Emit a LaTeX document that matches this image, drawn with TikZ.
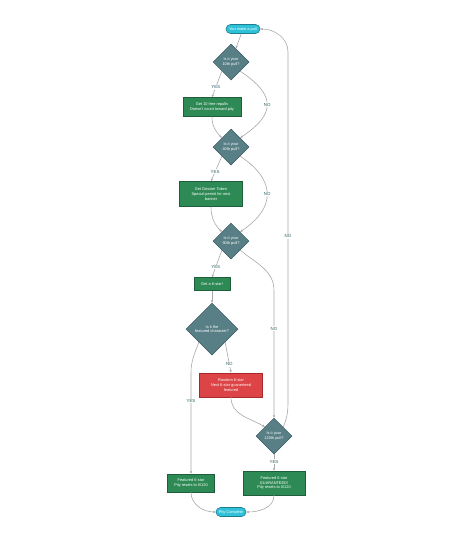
\documentclass[tikz,border=0pt]{standalone}
\usepackage{fontspec}
\setmainfont{Liberation Sans}
\usetikzlibrary{shapes.geometric, arrows.meta, positioning}

\definecolor{decfill}{HTML}{587F86}
\definecolor{decline}{HTML}{34555B}
\definecolor{okfill}{HTML}{2E8A55}
\definecolor{okline}{HTML}{1F5E3A}
\definecolor{badfill}{HTML}{DD4447}
\definecolor{badline}{HTML}{A8282B}
\definecolor{pillfill}{HTML}{2FC1D8}
\definecolor{pillline}{HTML}{1C7E8E}
\definecolor{wire}{HTML}{A8A8A8}
\definecolor{lbl}{HTML}{2F5D62}

\begin{document}
\begin{tikzpicture}[x=1pt, y=-1pt,
    every node/.style={font=\fontsize{3.9}{4.7}\selectfont, text=white, align=center},
    decision/.style={draw=decline, fill=decfill, diamond, aspect=1, inner sep=0pt, line width=0.5pt},
    action/.style={draw=okline, fill=okfill, rectangle, inner sep=0pt, line width=0.5pt},
    alert/.style={draw=badline, fill=badfill, rectangle, inner sep=0pt, line width=0.5pt},
    pill/.style={draw=pillline, fill=pillfill, rectangle, rounded corners=4.5pt, minimum height=9pt, inner sep=0pt, line width=0.6pt},
    flow/.style={-{Stealth[length=2.8pt, width=2.4pt]}, draw=wire, line width=0.6pt},
    tag/.style={fill=white, text=lbl, inner sep=0.8pt, font=\fontsize{4.4}{5}\selectfont}]
    \useasboundingbox (0,0) rectangle (474,541);
    % start and the pity checks
    \node[pill, minimum width=34pt] (start) at (243, 29) {You make a pull};
    \node[decision, minimum width=36pt, minimum height=36pt] (d10) at (231, 62) {Is it your\\10th pull?};
    \node[action, minimum width=58pt, minimum height=19pt] (repull) at (212, 107) {Get 10 free repulls\\Doesn't count toward pity};
    \node[decision, minimum width=36pt, minimum height=36pt] (d40) at (231, 147) {Is it your\\40th pull?};
    \node[action, minimum width=63pt, minimum height=25pt] (token) at (211, 194) {Get Dossier Token\\Special permit for next\\banner};
    \node[decision, minimum width=36pt, minimum height=36pt] (d90) at (231, 241) {Is it your\\90th pull?};
    \node[action, minimum width=36pt, minimum height=13pt] (six) at (212, 284) {Get a 6-star!};
    \node[decision, minimum width=52pt, minimum height=52pt] (dfeat) at (212, 329) {Is it the\\featured character?};
    \node[alert, minimum width=63pt, minimum height=24pt] (rand) at (231, 385) {Random 6-star\\Next 6-star guaranteed\\featured};
    \node[decision, minimum width=36pt, minimum height=36pt] (d120) at (274, 436) {Is it your\\120th pull?};
    \node[action, minimum width=47pt, minimum height=18pt] (feat) at (191, 483) {Featured 6-star\\Pity resets to 0/120};
    \node[action, minimum width=62pt, minimum height=24pt] (guar) at (274, 483) {Featured 6-star\\GUARANTEED!\\Pity resets to 0/120};
    \node[pill, minimum width=30pt] (done) at (231, 512) {Pity Complete};

    % return path of the 120th check
    \coordinate (up1) at (288, 400);
    \coordinate (up2) at (288, 52);

    \draw[flow] (start) -- (d10);
    \draw[flow] (d10.south west) -- node[tag, pos=0.62] {YES} (repull.north);
    \draw[flow] (repull.south) to[out=-90, in=135] (d40.north west);
    \draw[flow] (d10.south east) .. controls +(36,24) and +(36,-24) .. node[tag] {NO} (d40.north east);
    \draw[flow] (d40.south west) -- node[tag, pos=0.62] {YES} (token.north);
    \draw[flow] (token.south) to[out=-90, in=135] (d90.north west);
    \draw[flow] (d40.south east) .. controls +(36,24) and +(36,-24) .. node[tag] {NO} (d90.north east);
    \draw[flow] (d90.south west) -- node[tag, pos=0.62] {YES} (six.north);
    \draw[flow] (d90.south east) to[out=-40, in=90] (d120.north |- six.south) -- node[tag, pos=0.3] {NO} (d120.north);
    \draw[flow] (six) -- (dfeat);
    \draw[flow] (dfeat.south east) -- node[tag, pos=0.72] {NO} (rand.north);
    \draw[flow] (dfeat.south west) to[out=-110, in=90] (feat.north |- rand.north) -- node[tag, pos=0.28] {YES} (feat.north);
    \draw[flow] (rand.south) to[out=-90, in=150] (d120.north west);
    \draw[flow] (d120.south) -- node[tag, pos=0.45] {YES} (guar.north);
    \draw[flow] (d120.north east) to[out=65, in=-90] (up1) -- node[tag, pos=0.47] {NO} (up2) to[out=90, in=0] (start.east);
    \draw[flow] (feat.south) to[out=-90, in=180] (done.west);
    \draw[flow] (guar.south) to[out=-90, in=0] (done.east);
\end{tikzpicture}
\end{document}
